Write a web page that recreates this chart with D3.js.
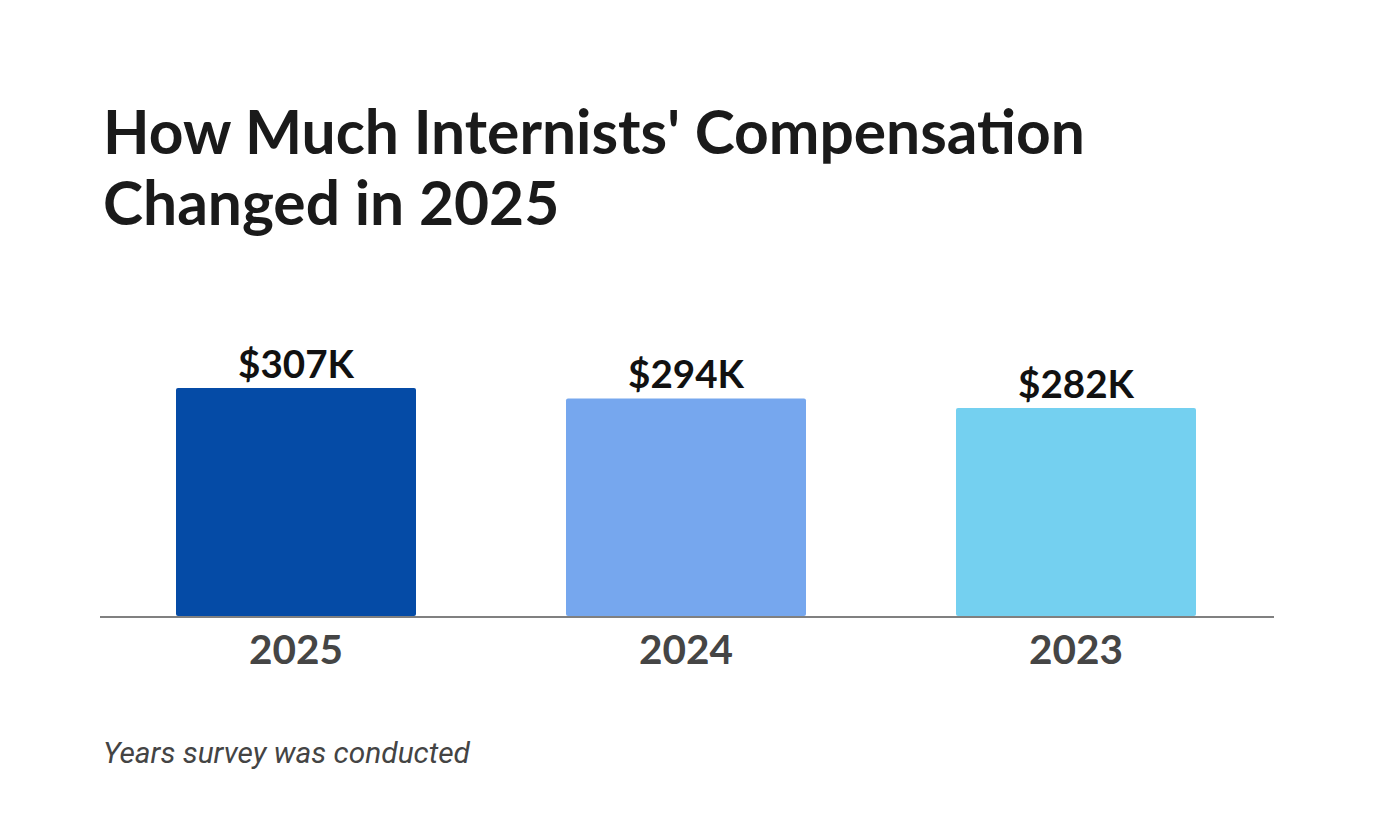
<!DOCTYPE html>
<html>
<head>
<meta charset="utf-8">
<script src="https://cdn.jsdelivr.net/npm/d3@7"></script>
<style>
  html, body { margin: 0; padding: 0; background: #ffffff; }
  svg { display: block; }
</style>
</head>
<body>
<svg id="chart" width="1380" height="836"></svg>
<script>
const categories = ["2025", "2024", "2023"];
const values = [307, 294, 282];
const valueLabels = ["$307K", "$294K", "$282K"];
const colors = ["#054ba6", "#76a7ee", "#74d0f0"];
const titleLines = ["How Much Internists' Compensation", "Changed in 2025"];
const footnote = "Years survey was conducted";

const svg = d3.select("#chart");
const W = 1380, H = 836;
svg.append("rect").attr("width", W).attr("height", H).attr("fill", "#fff");

function fitWidth(sel, target) {
  const w = sel.node().getComputedTextLength();
  const fs = parseFloat(sel.attr("font-size"));
  sel.attr("font-size", (fs * target / w).toFixed(2));
}

// Title
const titleFont = "Lato, 'Open Sans', sans-serif";
const t1 = svg.append("text").attr("x", 103).attr("y", 154)
  .attr("font-family", titleFont).attr("font-weight", 700).attr("font-size", 56)
  .attr("fill", "#1a1a1a").text(titleLines[0]);
fitWidth(t1, 982);
svg.append("text").attr("x", 103).attr("y", 225)
  .attr("font-family", titleFont).attr("font-weight", 700).attr("font-size", t1.attr("font-size"))
  .attr("fill", "#1a1a1a").text(titleLines[1]);

// Scales
const xs = d3.scaleBand().domain(categories).range([101, 1271]).paddingInner(150/390).paddingOuter(75/390);
const y = d3.scaleLinear().domain([22, 307]).range([616, 388]);

const g = svg.append("g");
g.selectAll("rect.bar").data(values).join("rect")
  .attr("class", "bar")
  .attr("x", (d, i) => xs(categories[i]))
  .attr("width", xs.bandwidth())
  .attr("y", d => y(d))
  .attr("height", d => y.range()[0] - y(d))
  .attr("rx", 2).attr("ry", 2)
  .attr("fill", (d, i) => colors[i]);

// Value labels
const labelFont = "Lato, 'Open Sans', sans-serif";
g.selectAll("text.val").data(values).join("text")
  .attr("class", "val")
  .attr("x", (d, i) => xs(categories[i]) + xs.bandwidth() / 2)
  .attr("y", d => y(d) - 10)
  .attr("text-anchor", "middle")
  .attr("font-family", labelFont).attr("font-weight", 700).attr("font-size", 34)
  .attr("fill", "#111")
  .text((d, i) => valueLabels[i]);
{
  const first = g.select("text.val");
  const w = first.node().getComputedTextLength();
  const fs = 34 * 116 / w;
  g.selectAll("text.val").attr("font-size", fs.toFixed(2));
}

// Axis
const axis = d3.axisBottom(xs).tickSize(0).tickPadding(18);
const ax = svg.append("g").attr("transform", "translate(0,617)").call(axis);
ax.select(".domain").remove();
svg.append("line").attr("x1", 100).attr("x2", 1274).attr("y1", 617).attr("y2", 617)
  .attr("stroke", "#808080").attr("stroke-width", 2);
ax.selectAll(".tick text")
  .attr("font-family", labelFont).attr("font-weight", 700).attr("font-size", 38)
  .attr("fill", "#454545").attr("dy", "0.71em");
{
  const first = ax.select(".tick text");
  const w = first.node().getComputedTextLength();
  ax.selectAll(".tick text").attr("font-size", (38 * 94 / w).toFixed(2));
}

// Footnote
const fn = svg.append("text").attr("x", 103).attr("y", 763)
  .attr("font-family", "Roboto, sans-serif").attr("font-style", "italic").attr("font-size", 26)
  .attr("fill", "#444").text(footnote);
fitWidth(fn, 367);
</script>
</body>
</html>
